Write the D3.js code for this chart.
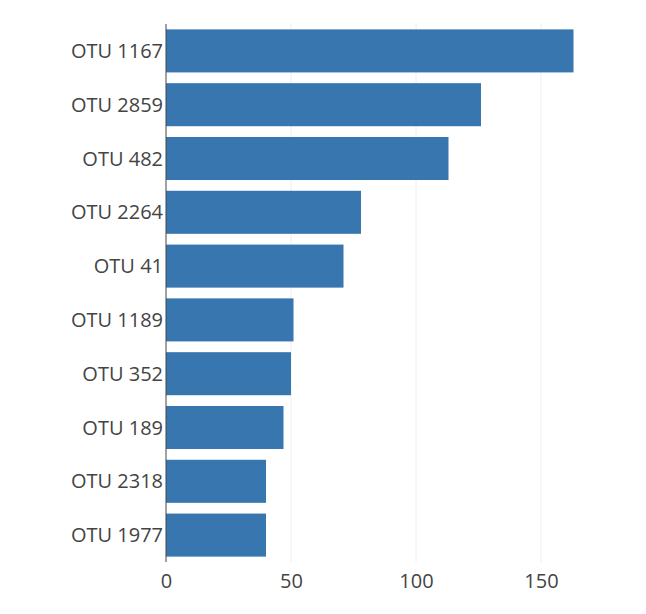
<!DOCTYPE html>
<html><head><meta charset="utf-8">
<script src="https://d3js.org/d3.v7.min.js"></script>
<style>body{margin:0;background:#fff}</style></head>
<body><svg id="c" width="646" height="614"></svg>
<script>
const categories=["OTU 1167","OTU 2859","OTU 482","OTU 2264","OTU 41","OTU 1189","OTU 352","OTU 189","OTU 2318","OTU 1977"];
const values=[163,126,113,78,71,51,50,47,40,40];
const ticks=[0,50,100,150];
const svg=d3.select("#c");
const x=d3.scaleLinear().domain([0,171.6]).range([166,595]);
const y=d3.scaleBand().domain(categories).range([24,562]).paddingInner(0.2).paddingOuter(0.1);
svg.append("g").selectAll("line").data(ticks.slice(1)).join("line")
 .attr("x1",d=>x(d)).attr("x2",d=>x(d)).attr("y1",24).attr("y2",562).attr("stroke","#eee");
svg.append("g").selectAll("rect").data(values).join("rect")
 .attr("x",x(0)).attr("y",(d,i)=>y(categories[i])).attr("width",d=>x(d)-x(0)).attr("height",y.bandwidth()).attr("fill","#3876af");
svg.append("line").attr("x1",x(0)).attr("x2",x(0)).attr("y1",24).attr("y2",562).attr("stroke","#444");
const ga=svg.append("g").attr("transform","translate(0,562)").call(d3.axisBottom(x).tickValues(ticks).tickSize(0).tickPadding(8));
ga.select(".domain").remove();
ga.selectAll("text").attr("font-family","Open Sans, sans-serif").attr("font-size",20).attr("fill","#444").attr("dy","0.9em");
svg.append("g").selectAll("text").data(categories).join("text")
 .attr("x",x(0)-3).attr("y",d=>y(d)+y.bandwidth()/2).attr("dy","0.35em").attr("text-anchor","end")
 .attr("font-family","Open Sans, sans-serif").attr("font-size",20).attr("fill","#444").text(d=>d);
</script></body></html>
